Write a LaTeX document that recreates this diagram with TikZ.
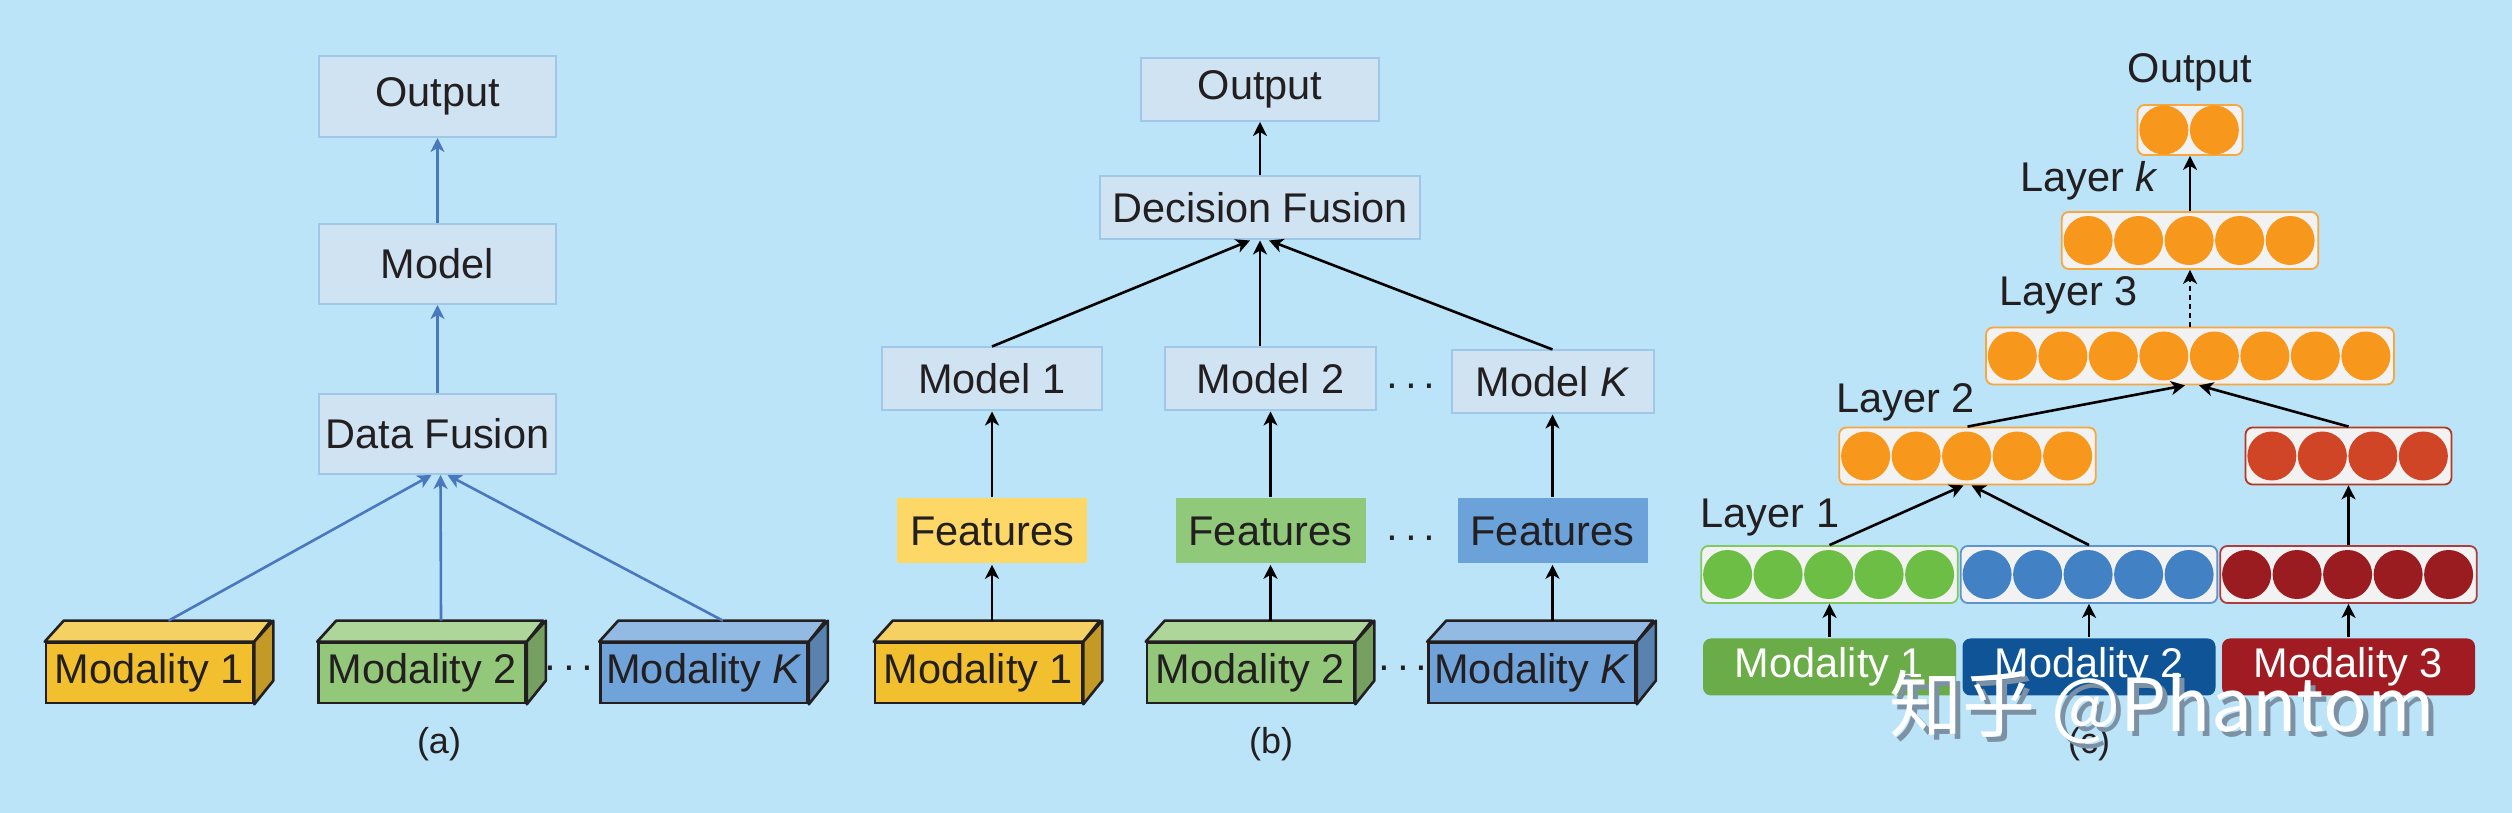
\documentclass[tikz,border=0pt]{standalone}
\usepackage{fontspec}
\setmainfont{Liberation Sans}
\newfontfamily\cjk{Noto Sans CJK SC}
\usepackage{tikz}
\usetikzlibrary{positioning}
\usetikzlibrary{arrows.meta}
\usetikzlibrary{calc}

\definecolor{skyback}{RGB}{187,228,248}
\definecolor{boxfill}{RGB}{208,227,243}
\definecolor{boxline}{RGB}{160,198,232}
\definecolor{inkblack}{RGB}{35,31,32}
\definecolor{arrowblue}{RGB}{74,120,190}
\definecolor{ylw}{RGB}{242,192,46}
\definecolor{grn}{RGB}{147,200,122}
\definecolor{blu}{RGB}{111,163,217}
\definecolor{featylw}{RGB}{253,216,102}
\definecolor{featgrn}{RGB}{145,201,122}
\definecolor{featblu}{RGB}{107,162,218}
\definecolor{layerfill}{RGB}{242,242,242}
\definecolor{orng}{RGB}{247,152,29}
\definecolor{rorng}{RGB}{208,69,38}
\definecolor{cgrn}{RGB}{108,190,69}
\definecolor{cblu}{RGB}{65,129,196}
\definecolor{cred}{RGB}{155,28,32}
\definecolor{modgrn}{RGB}{106,172,71}
\definecolor{modblu}{RGB}{15,84,150}
\definecolor{modred}{RGB}{160,28,34}
\definecolor{shadegray}{RGB}{125,145,165}

\newcommand{\threedots}{\textperiodcentered\hspace{5pt}\textperiodcentered\hspace{5pt}\textperiodcentered}

\begin{document}
\begin{tikzpicture}[
            x = 1pt, y = 1pt,
            > = {Stealth[length=14pt,width=14pt,inset=4pt]}, % arrow head style
            line width = 2.6pt, % line style
            font = \fontsize{41.5}{48}\selectfont,
            text = inkblack
        ]

        \tikzstyle{plain}=[draw = boxline, line width = 2pt, fill = boxfill, inner sep = 0pt, minimum height = 63pt]
        \tikzstyle{feat}=[inner sep = 0pt, minimum width = 190pt, minimum height = 65pt]
        \tikzstyle{cube}=[draw = inkblack, line width = 2.6pt, inner sep = 0pt, minimum width = 207pt, minimum height = 60pt]
        \tikzstyle{layer}=[line width = 1.8pt, fill = layerfill, rounded corners = 7pt, minimum height = 57pt, inner sep = 0pt]
        \tikzstyle{mode}=[rounded corners = 8pt, text = white, minimum width = 253pt, minimum height = 57pt, inner sep = 0pt]
        \tikzstyle{caption}=[font = \fontsize{36}{42}\selectfont, inner sep = 0pt]
        \tikzstyle{dots}=[inner sep = 0pt]

        \fill[skyback] (0,0) rectangle (2512,813);

	% (a) DATA FUSION
        \node[cube, fill = ylw] (AM1) at (149.5,140) {Modality 1};
        \node[cube, fill = grn] (AM2) [right of=AM1, node distance=272.5pt] {Modality 2};
        \node[cube, fill = blu] (AMK) [right of=AM2, node distance=282pt] {Modality \textit{K}};
        \node[dots] (ADots) at (569,140) {\threedots};

        \node[plain, minimum width = 237pt, minimum height = 80pt] (AFus) at (437.5,379) {Data Fusion};
        \node[plain, minimum width = 237pt, minimum height = 80pt] (AMod) [above of=AFus, node distance=170pt] {Model};
        \node[plain, minimum width = 237pt, minimum height = 81pt] (AOut) [above of=AMod, node distance=167.5pt] {Output};
        \node[caption] (ACap) at (439,69) {(a)};

	% (b) DECISION FUSION
        \node[cube, fill = ylw] (BM1) at (978.5,140) {Modality 1};
        \node[cube, fill = grn] (BM2) [right of=BM1, node distance=272pt] {Modality 2};
        \node[cube, fill = blu] (BMK) [right of=BM2, node distance=281.5pt] {Modality \textit{K}};
        \node[dots] (BDots) at (1403,140) {\threedots};

        \node[feat, fill = featylw] (BF1) at (992,282) {Features};
        \node[feat, fill = featgrn] (BF2) at (1270.5,282) {Features};
        \node[feat, fill = featblu] (BFK) at (1552.5,282) {Features};
        \node[dots] (BFDots) at (1411,270) {\threedots};

        \node[plain, minimum width = 220pt] (BMd1) [above of=BF1, node distance=152pt] {Model 1};
        \node[plain, minimum width = 211pt] (BMd2) [above of=BF2, node distance=152pt] {Model 2};
        \node[plain, minimum width = 202pt] (BMdK) [above of=BFK, node distance=149pt] {Model \textit{K}};
        \node[dots] (BMDots) at (1411,422) {\threedots};

        \node[plain, minimum width = 320pt] (BFus) at (1260,605) {Decision Fusion};
        \node[plain, minimum width = 238pt] (BOut) [above of=BFus, node distance=118.5pt] {Output};
        \node[caption] (BCap) at (1271,69) {(b)};

        % side and top faces of the modality blocks
        \foreach \n/\c in {AM1/ylw, AM2/grn, AMK/blu, BM1/ylw, BM2/grn, BMK/blu} {
            \filldraw[fill = \c!75!white, draw = inkblack, line join = round] (\n.north west) -- ++(19,21) -- ++(207,0) -- (\n.north east) -- cycle;
            \filldraw[fill = \c!80!black, draw = inkblack, line join = round] (\n.north east) -- ++(19,21) -- ++(0,-60) -- (\n.south east) -- cycle;
            \coordinate (top\n) at ($(\n.north)+(19,21)$);
        }

        \path[->, arrowblue] (topAM1) edge ([xshift=-6pt]AFus.south);
        \path[->, arrowblue] (topAM2) edge ([xshift=3pt]AFus.south);
        \path[->, arrowblue] (topAMK) edge ([xshift=10pt]AFus.south);
        \path[->, arrowblue] (AFus) edge (AMod);
        \path[->, arrowblue] (AMod) edge (AOut);

        \path[->] (BF1 |- topBM1) edge (BF1);
        \path[->] (BF2 |- topBM2) edge (BF2);
        \path[->] (BFK |- topBMK) edge (BFK);
        \path[->] (BF1) edge (BMd1);
        \path[->] (BF2) edge (BMd2);
        \path[->] (BFK) edge (BMdK);
        \path[->] (BMd1.north) edge ([xshift=-10pt]BFus.south);
        \path[->] (BMd2.north -| BFus) edge (BFus);
        \path[->] (BMdK.north) edge ([xshift=9pt]BFus.south);
        \path[->] (BFus) edge (BOut);

	% (c) HIERARCHICAL FUSION
        \node[mode, fill = modgrn] (CPg) at (1829.5,146) {Modality 1};
        \node[mode, fill = modblu] (CPb) [right of=CPg, node distance=259.5pt] {Modality 2};
        \node[mode, fill = modred] (CPr) [right of=CPb, node distance=259.5pt] {Modality 3};

        \node[layer, draw = cgrn!85, minimum width = 256.5pt] (CLg) [above of=CPg, node distance=92.5pt] {};
        \node[layer, draw = cblu!85, minimum width = 256.5pt] (CLb) [above of=CPb, node distance=92.5pt] {};
        \node[layer, draw = cred!85, minimum width = 256.5pt] (CLr) [above of=CPr, node distance=92.5pt] {};
        \node[layer, draw = orng!85, minimum width = 256.5pt] (CL2) at (1967.5,357) {};
        \node[layer, draw = rorng!85!black, minimum width = 206pt] (CL2r) [above of=CLr, node distance=118.5pt] {};
        \node[layer, draw = orng!85, minimum width = 408pt] (CL3) at (2190,457) {};
        \node[layer, draw = orng!85, minimum width = 256.5pt] (CLk) [above of=CL3, node distance=115.5pt] {};
        \node[layer, draw = orng!85, minimum width = 105pt, minimum height = 50pt] (COut) [above of=CLk, node distance=110.5pt] {};

        \foreach \n/\k/\c in {CLg/5/cgrn, CLb/5/cblu, CLr/5/cred, CL2/5/orng, CL2r/4/rorng, CL3/8/orng, CLk/5/orng, COut/2/orng}
            \foreach \i in {1,...,\k}
                \fill[\c] ($(\n.west)+(\i*50.5-23.25,0)$) circle (24.5pt);

        \node[inner sep = 0pt, anchor = west] (CT1) at (1699.5,295) {Layer 1};
        \node[inner sep = 0pt, anchor = west] (CT2) at (1835,411) {Layer 2};
        \node[inner sep = 0pt, anchor = west] (CT3) at (1998,517.5) {Layer 3};
        \node[inner sep = 0pt, anchor = west] (CTk) at (2019,632) {Layer \textit{k}};
        \node[inner sep = 0pt] (CTout) [above of=COut, node distance=57.5pt] {Output};
        \node[caption] (CCap) at (2089,69) {(c)};

        \path[->] (CPg) edge (CLg);
        \path[->] (CPb) edge (CLb);
        \path[->] (CPr) edge (CLr);
        \path[->] (CLg.north) edge ([xshift=-4pt]CL2.south);
        \path[->] (CLb.north) edge ([xshift=4pt]CL2.south);
        \path[->] (CLr) edge (CL2r);
        \path[->] (CL2.north) edge ([xshift=-5pt]CL3.south);
        \path[->] (CL2r.north) edge ([xshift=9pt]CL3.south);
        \path[->, line width = 2pt, dash pattern = on 5pt off 4pt] (CL3) edge (CLk);
        \path[->] (CLk) edge (COut);

	% WATERMARK
        \node[text = shadegray, inner sep = 0pt] (WMs) at (2167,101) {\cjk\fontsize{73}{84}\selectfont 知乎 @Phantom};
        \node[text = white, inner sep = 0pt] (WM) at (2162,106) {\cjk\fontsize{73}{84}\selectfont 知乎 @Phantom};

  \end{tikzpicture}
\end{document}
